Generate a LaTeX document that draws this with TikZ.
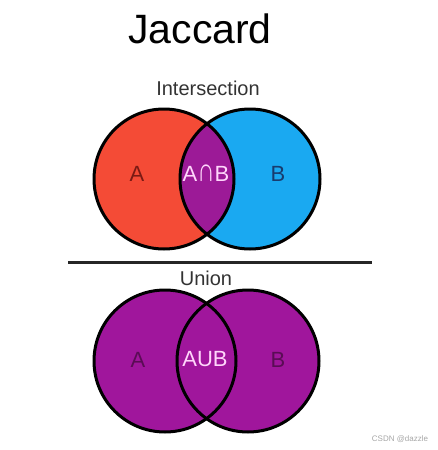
\documentclass[tikz,border=0pt]{standalone}
\usepackage{fontspec}
\usepackage{graphicx}
\setmainfont{Liberation Sans}
\usetikzlibrary{positioning}
\definecolor{setred}{HTML}{F44B36}
\definecolor{setblue}{HTML}{1AA9F1}
\definecolor{setpurple}{HTML}{9C1A97}
\definecolor{unionpurple}{HTML}{A0169C}
\definecolor{labelred}{HTML}{7A1A14}
\definecolor{labelblue}{HTML}{183C6E}
\definecolor{labelplum}{HTML}{5A0C55}
\definecolor{labelpink}{HTML}{FFD6FB}
\tikzset{
  setline/.style={
    draw=black,
    line width=3pt
  },
  heading/.style={
    anchor=base,
    inner sep=0pt,
    text=black!80,
    font=\fontsize{20}{24}\selectfont
  },
  setlabel/.style={
    anchor=base,
    inner sep=0pt,
    font=\fontsize{22}{26}\selectfont
  }
}

\begin{document}
\begin{tikzpicture}[x=1pt, y=-1pt]
\useasboundingbox (0,0) rectangle (438,450);
% title
\node[anchor=base, inner sep=0pt, font=\fontsize{41}{48}\selectfont] (title) at (200,43) {Jaccard};

% intersection
\node[heading] (inter) at (208,95) {Intersection};
\fill[setred] (164,179) circle (70);
\fill[setblue] (250,179) circle (70);
\begin{scope}
  \clip (164,179) circle (70);
  \fill[setpurple] (250,179) circle (70);
\end{scope}
\draw[setline] (164,179) circle (70);
\draw[setline] (250,179) circle (70);
\node[setlabel, text=labelred] (topa) at (137,181) {A};
\node[setlabel, text=labelpink] (topab) at (206,181) {A\scalebox{1.1}[1.5]{∩}B};
\node[setlabel, text=labelblue] (topb) at (278,181) {B};

% rule
\coordinate (rulel) at (68,262);
\coordinate (ruler) at (372,262);
\draw[line width=3pt, black!85] (rulel) -- (ruler);

% union
\node[heading] (union) at (206,285) {Union};
\fill[unionpurple] (165,361) circle (71);
\fill[unionpurple] (248,361) circle (71);
\draw[setline] (165,361) circle (71);
\draw[setline] (248,361) circle (71);
\node[setlabel, text=labelplum] (bota) at (138,367) {A};
\node[setlabel, text=labelpink] (botab) at (205,366) {AUB};
\node[setlabel, text=labelplum] (botb) at (278,367) {B};

\node[anchor=base, inner sep=0pt, text=black!35, font=\fontsize{8}{10}\selectfont] (mark) at (400,441) {CSDN @dazzle};
\end{tikzpicture}
\end{document}
